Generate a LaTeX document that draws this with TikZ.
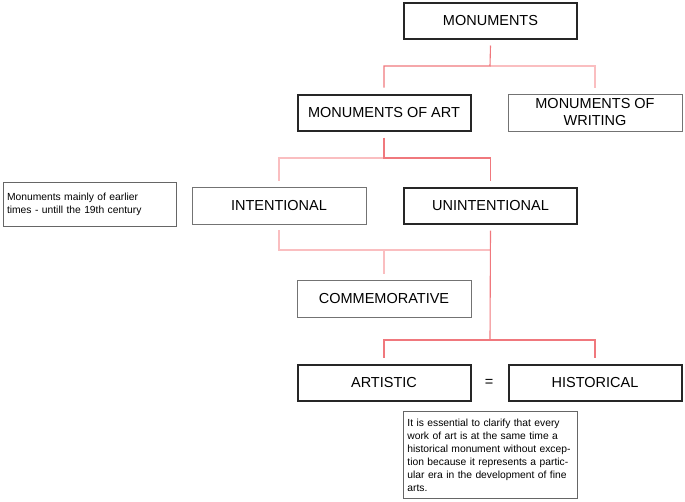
\documentclass[tikz,border=0pt]{standalone}
\usepackage{fontspec}
\setmainfont{Liberation Sans}
\begin{document}
\begin{tikzpicture}[x=1pt,y=-1pt,
  thick box/.style={draw=black!85,line width=2pt,minimum width=173pt,minimum height=36pt,font=\fontsize{14.5}{17}\selectfont,align=center,inner sep=2pt},
  thin box/.style={draw=black!55,line width=0.8pt,minimum width=174pt,minimum height=37pt,font=\fontsize{14.5}{17}\selectfont,align=center,inner sep=2pt},
  note/.style={draw=black!60,line width=0.8pt,font=\fontsize{10.3}{13}\selectfont,align=left,inner sep=4pt},
  strong/.style={draw={rgb,255:red,240;green,120;blue,125},line width=1.1pt},
  weak/.style={draw={rgb,255:red,250;green,190;blue,192},line width=1.1pt}]
\useasboundingbox (0,0) rectangle (685,501);
\node[thick box] (mon) at (490.5,20.5) {MONUMENTS};
\node[thick box] (art) at (384,112.5) {MONUMENTS OF ART};
\node[thin box] (wri) at (595,112.5) {MONUMENTS OF\\WRITING};
\node[thin box] (int) at (279,205.5) {INTENTIONAL};
\node[thick box] (unint) at (490.5,205.5) {UNINTENTIONAL};
\node[note,minimum width=173pt,minimum height=44pt,text width=165pt] (early) at (89.5,204) {Monuments mainly of earlier\\times - untill the 19th century};
\node[thin box] (comm) at (384,298.5) {COMMEMORATIVE};
\node[thick box] (artis) at (384,382.5) {ARTISTIC};
\node[font=\fontsize{14.5}{17}\selectfont] (eq) at (489,383) {=};
\node[thick box] (hist) at (595,382.5) {HISTORICAL};
\node[note,text width=166pt,anchor=north west,minimum height=87pt] (ess) at (403,411) {It is essential to clarify that every work of art is at the same time a historical monument without exception because it represents a particular era in the development of fine arts.};
\coordinate (c1) at (490,66);
\draw[weak] (c1) -| ([yshift=6pt]wri.north);
\draw[strong] ([yshift=-6pt]mon.south) -- (c1) -| ([yshift=6pt]art.north);
\coordinate (c2) at (384,158);
\draw[weak] (c2) -| ([yshift=6pt]int.north);
\draw[strong] ([yshift=-6pt]art.south) -- (c2) -| ([yshift=6pt]unint.north);
\coordinate (c3) at (384,250);
\draw[weak] ([yshift=-6pt]int.south) |- (c3) -- ([yshift=6pt]comm.north);
\draw[weak] (c3) -- (490,250);
\coordinate (c4) at (490,340);
\draw[strong] ([yshift=-6pt]unint.south) -- (c4);
\draw[strong] (c4) -| ([yshift=6pt]artis.north);
\draw[strong] (c4) -| ([yshift=6pt]hist.north);
\end{tikzpicture}
\end{document}
